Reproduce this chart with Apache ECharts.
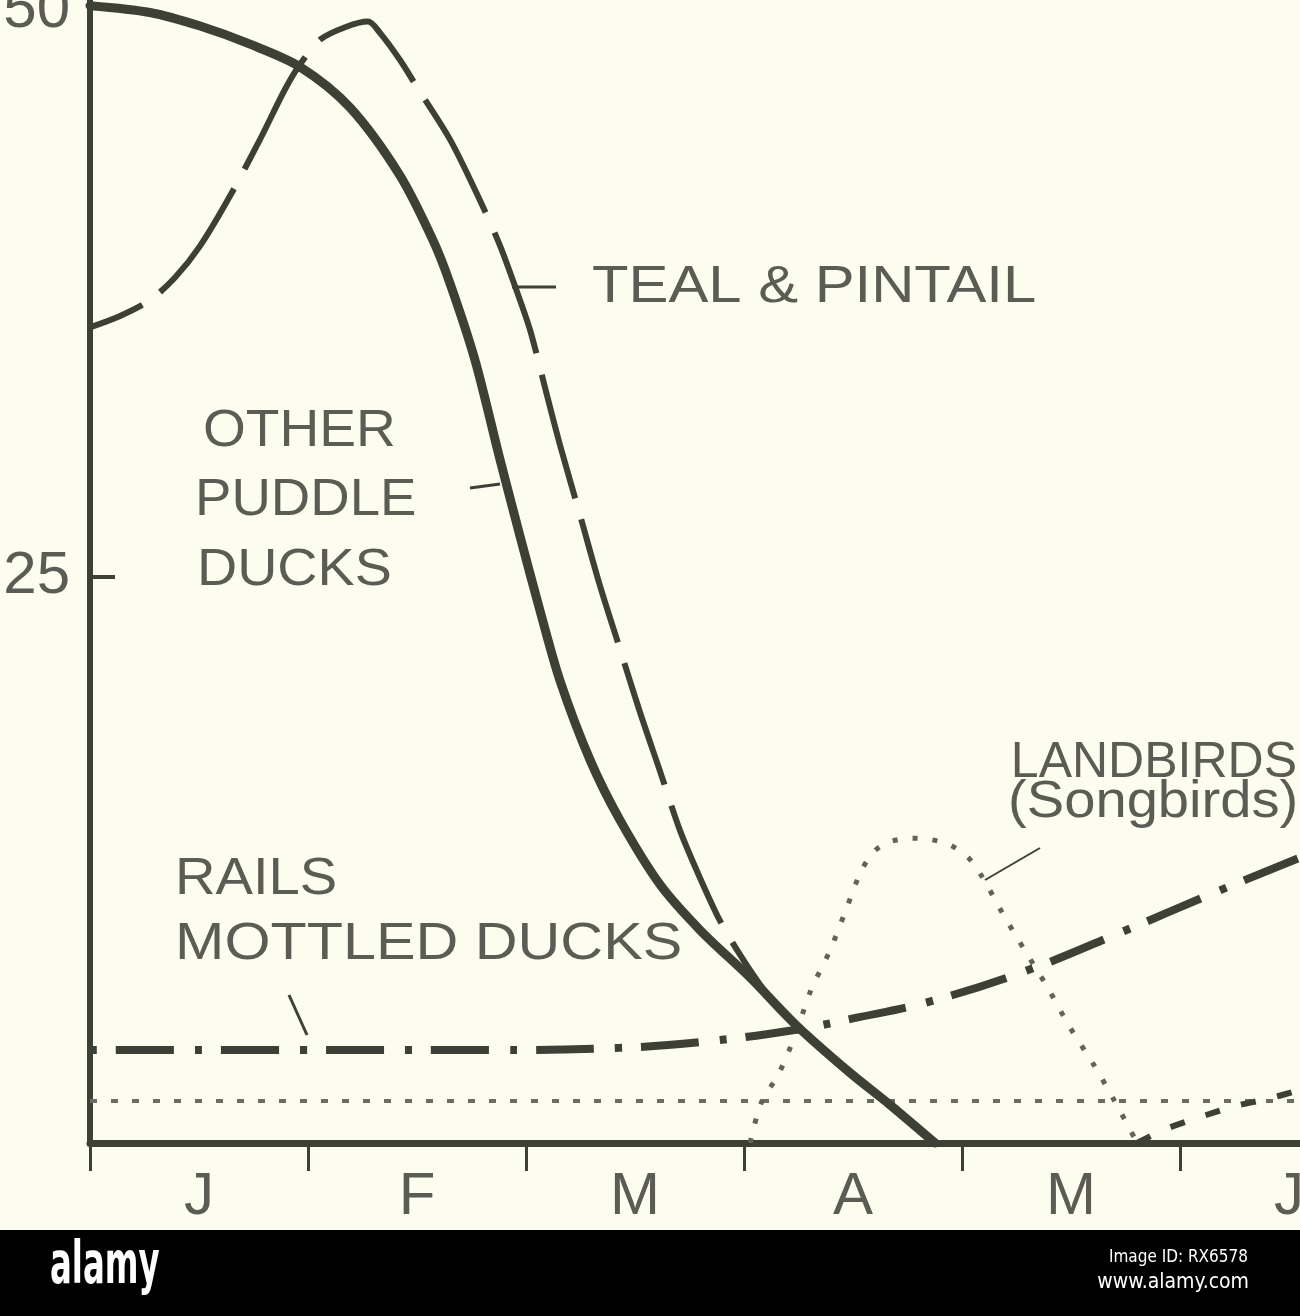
<!DOCTYPE html>
<html><head><meta charset="utf-8">
<style>html,body{margin:0;padding:0;background:#fcfcef;}#c{width:1300px;height:1316px;}</style>
<script src="https://cdn.jsdelivr.net/npm/echarts@6/dist/echarts.min.js"></script>
</head><body><div id="c"></div>
<script>
// x = months since 1 January, y = value on the 0-50 scale
const monthLabels = ['J', 'F', 'M', 'A', 'M', 'J'];
const monthLabelPositions = [0.5, 1.5, 2.5, 3.5, 4.5, 5.5];
const monthTicks = [0, 1, 2, 3, 4, 5];
const yLabelValues = [25, 50];
const yTickValues = [25];

const otherPuddleDucks = [
  [0, 50.2], [0.275, 49.9], [0.505, 49.3], [0.734, 48.5], [0.963, 47.5], [1.193, 45.7],
  [1.422, 42.7], [1.573, 39.85], [1.651, 37.95], [1.766, 34.55], [1.881, 30.15],
  [1.972, 26.8], [2.064, 23.5], [2.156, 20.4], [2.294, 16.9], [2.431, 14.25],
  [2.615, 11.4], [2.798, 9.4], [3.028, 7.3], [3.239, 5.2], [3.486, 3.1], [3.67, 1.68], [3.876, 0]
];
const tealPintail = [
  [0, 36.0], [0.138, 36.5], [0.275, 37.2], [0.39, 38.2], [0.505, 39.6], [0.642, 41.8],
  [0.78, 44.3], [0.894, 46.5], [0.963, 47.6], [1.055, 48.7], [1.17, 49.25], [1.275, 49.5],
  [1.33, 49.0], [1.422, 47.8], [1.5, 46.6], [1.651, 44.3], [1.789, 41.6], [1.881, 39.6],
  [1.95, 37.8], [2.018, 35.9], [2.096, 33.0], [2.156, 30.8], [2.248, 27.7], [2.339, 24.6],
  [2.431, 21.8], [2.523, 19.0], [2.615, 16.4], [2.706, 13.8], [2.798, 11.7], [2.89, 9.8],
  [2.982, 8.3], [3.073, 7.0], [3.165, 5.9], [3.257, 5.0], [3.486, 3.05], [3.67, 1.68], [3.876, 0]
];
const railsMottledDucks = [
  [0, 4.1], [0.963, 4.1], [1.881, 4.1], [2.431, 4.2], [2.798, 4.45], [3.239, 5.0],
  [3.5, 5.5], [3.835, 6.2], [4.294, 7.6], [4.729, 9.3], [5.17, 11.1], [5.55, 12.6]
];
const landbirds = [
  [3.028, 0], [3.078, 1.75], [3.161, 3.1], [3.234, 4.75], [3.307, 6.75], [3.394, 8.5],
  [3.468, 10.3], [3.537, 12.0], [3.6, 12.9], [3.67, 13.3], [3.766, 13.45], [3.853, 13.4],
  [3.945, 13.15], [4.028, 12.6], [4.092, 11.75], [4.188, 10.1], [4.294, 8.4], [4.39, 6.9],
  [4.495, 5.1], [4.601, 3.5], [4.697, 1.9], [4.803, 0]
];
const lateRise = [
  [4.803, 0], [4.922, 0.57], [5.078, 1.1], [5.252, 1.63], [5.399, 1.94], [5.55, 2.34]
];
const dottedLevel = [[0, 1.85], [5.55, 1.85]];

const ink = '#3d4034';
const textInk = '#5b5c53';

const chart = echarts.init(document.getElementById('c'), null, {renderer: 'canvas'});
const base = {type: 'line', symbol: 'none', showSymbol: false, clip: false, animation: false, silent: true};
const lab = (text, x, y, size, sx, align) => ({
  type: 'text', x: x, y: y, scaleX: sx,
  style: {text: text, font: size + 'px "Liberation Sans"', fill: textInk, verticalAlign: 'middle', align: align || 'left'}
});

chart.setOption({
  backgroundColor: '#fcfcef',
  animation: false,
  grid: {left: 90, right: 0, top: 0, bottom: 173, outerBoundsMode: 'none', containLabel: false},
  xAxis: {
    type: 'value', min: 0, max: 5.55,
    axisLine: {show: true, onZero: false, lineStyle: {color: ink, width: 7}},
    axisTick: {show: true, customValues: monthTicks, length: 28, inside: false, lineStyle: {color: ink, width: 3}},
    axisLabel: {
      show: true, customValues: monthLabelPositions, margin: 24,
      formatter: v => monthLabels[Math.floor(v)],
      fontSize: 60, fontFamily: 'Liberation Sans', color: textInk
    },
    splitLine: {show: false}
  },
  yAxis: {
    type: 'value', min: 0, max: 50.45,
    axisLine: {show: true, lineStyle: {color: ink, width: 6}},
    axisTick: {show: true, customValues: yTickValues, inside: true, length: 25, lineStyle: {color: ink, width: 4}},
    axisLabel: {show: true, customValues: yLabelValues, margin: 20, padding: [10, 0, 0, 0], fontSize: 60, fontFamily: 'Liberation Sans', color: textInk},
    splitLine: {show: false}
  },
  series: [
    Object.assign({}, base, {name: 'level', data: dottedLevel, z: 2,
      lineStyle: {color: '#6b6c63', width: 4, type: [7, 14]}}),
    Object.assign({}, base, {name: 'LANDBIRDS (Songbirds)', data: landbirds, smooth: 0.3, z: 3,
      lineStyle: {color: '#616259', width: 5, type: [5, 15]}}),
    Object.assign({}, base, {name: 'late', data: lateRise, smooth: 0.3, z: 3,
      lineStyle: {color: ink, width: 6, type: [15, 22]}}),
    Object.assign({}, base, {name: 'RAILS MOTTLED DUCKS', data: railsMottledDucks, smooth: 0.4, z: 4,
      lineStyle: {color: ink, width: 8, type: [58, 21, 7, 19], dashOffset: 79, cap: 'butt'}}),
    Object.assign({}, base, {name: 'TEAL & PINTAIL', data: tealPintail, smooth: 0.3, z: 5,
      lineStyle: {color: ink, width: 6, type: [128, 22], dashOffset: 71, cap: 'butt', join: 'miter'}}),
    Object.assign({}, base, {name: 'OTHER PUDDLE DUCKS', data: otherPuddleDucks, smooth: 0.3, z: 6,
      lineStyle: {color: ink, width: 9, cap: 'round', join: 'round'}})
  ],
  graphic: {elements: [
    lab('TEAL & PINTAIL', 592, 288, 52, 1.15),
    {type: 'line', shape: {x1: 512, y1: 287, x2: 556, y2: 287}, style: {stroke: ink, lineWidth: 3}},
    lab('OTHER', 203, 432, 52, 1.06),
    lab('PUDDLE', 195, 501, 52, 1.05),
    lab('DUCKS', 197, 571, 52, 1.07),
    {type: 'line', shape: {x1: 470, y1: 488, x2: 500, y2: 484}, style: {stroke: ink, lineWidth: 3}},
    lab('RAILS', 175, 880, 52, 1.08),
    lab('MOTTLED DUCKS', 175, 945, 52, 1.14),
    {type: 'line', shape: {x1: 289, y1: 995, x2: 307, y2: 1035}, style: {stroke: ink, lineWidth: 3}},
    lab('LANDBIRDS', 1297, 763, 50, 1, 'right'),
    lab('(Songbirds)', 1008, 803, 52, 1.08),
    {type: 'line', shape: {x1: 985, y1: 880, x2: 1040, y2: 848}, style: {stroke: ink, lineWidth: 2}},
    {type: 'rect', z: 100, shape: {x: 0, y: 1230, width: 1300, height: 86}, style: {fill: '#000'}},
    {type: 'text', z: 101, x: 50, y: 1268, scaleX: 0.62, style: {text: 'alamy', font: 'bold 58px "DejaVu Sans Condensed"', fill: '#fff', verticalAlign: 'middle'}},
    {type: 'text', z: 101, x: 1248, y: 1258, style: {text: 'Image ID: RX6578', font: '17px "DejaVu Sans Condensed"', fill: '#fff', verticalAlign: 'middle', align: 'right'}},
    {type: 'text', z: 101, x: 1249, y: 1283, style: {text: 'www.alamy.com', font: '21px "DejaVu Sans Condensed"', fill: '#fff', verticalAlign: 'middle', align: 'right'}}
  ]}
});
</script></body></html>
